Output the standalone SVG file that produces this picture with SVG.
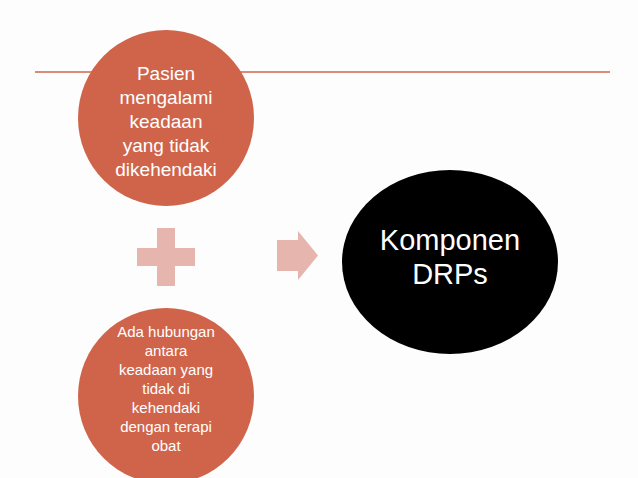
<svg xmlns="http://www.w3.org/2000/svg" width="638" height="478" viewBox="0 0 638 478">
<style>
.c{fill:#d0644b}
.t{font-family:"Liberation Sans",Arial,sans-serif;fill:#fff;text-anchor:middle}
.s{fill:#e6b5ad}
</style>
<rect width="638" height="478" fill="#fdfdfd"/>
<line x1="35" y1="72" x2="610" y2="72" stroke="#d0644b" stroke-width="1.5"/>
<g id="node1"><circle class="c" cx="166" cy="118" r="88"/>
<text class="t" font-size="19"><tspan x="166" y="80">Pasien</tspan><tspan x="166" y="104">mengalami</tspan><tspan x="166" y="128">keadaan</tspan><tspan x="166" y="152">yang tidak</tspan><tspan x="166" y="176">dikehendaki</tspan></text></g>
<g id="plus"><path class="s" d="M157 228H175V248H195V266H175V286H157V266H137V248H157Z"/></g>
<g id="connectors"><path class="s" d="M277 240H298V231L318 255.5L298 280V271H277Z"/></g>
<g id="node2"><circle class="c" cx="166" cy="396" r="88"/>
<text class="t" font-size="15"><tspan x="166" y="337">Ada hubungan</tspan><tspan x="166" y="356">antara</tspan><tspan x="166" y="375">keadaan yang</tspan><tspan x="166" y="394">tidak di</tspan><tspan x="166" y="413">kehendaki</tspan><tspan x="166" y="432">dengan terapi</tspan><tspan x="166" y="451">obat</tspan></text></g>
<g id="node3"><ellipse cx="450" cy="262" rx="108" ry="92" fill="#000"/>
<text class="t" font-size="29"><tspan x="450" y="250">Komponen</tspan><tspan x="450" y="284">DRPs</tspan></text></g>
</svg>
